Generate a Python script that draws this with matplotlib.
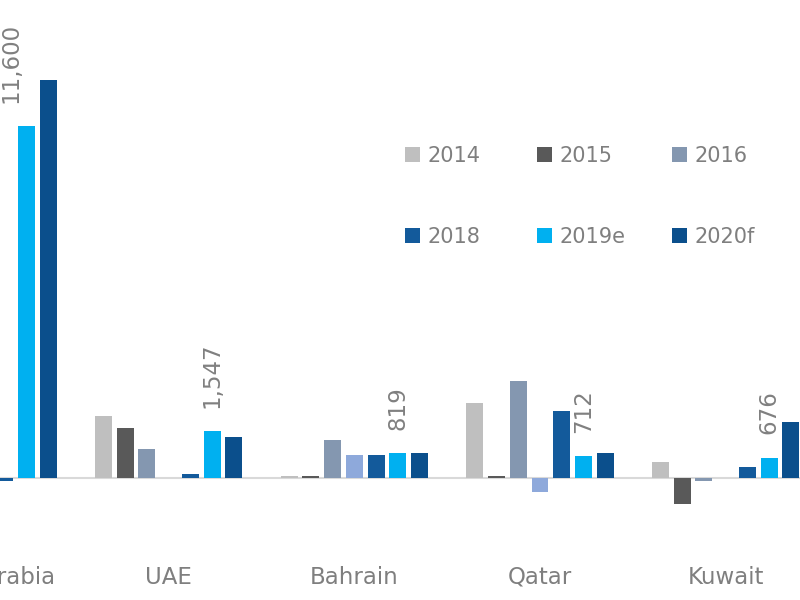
import numpy as np
import matplotlib
matplotlib.use("Agg")
import matplotlib.pyplot as plt
from matplotlib.patches import Patch

nan = np.nan
countries = ["Saudi Arabia", "UAE", "Bahrain", "Qatar", "Kuwait"]
years = ["2014", "2015", "2016", "2017", "2018", "2019e", "2020f"]
v2014 = [nan, 2050, 60, 2475, 540]
v2015 = [nan, 1650, 60, 75, -860]
v2016 = [nan, 960, 1250, 3200, -100]
v2017 = [nan, 0, 760, -460, 0]
v2018 = [-100, 140, 760, 2210, 365]
v2019e = [11600, 1547, 819, 712, 676]
v2020f = [13130, 1360, 830, 825, 1860]
series = [v2014, v2015, v2016, v2017, v2018, v2019e, v2020f]
colors = ["#BFBFBF", "#595959", "#8497B0", "#8EA9DB", "#135A9B", "#00B0F0", "#0B4F8C"]

plt.rcParams["font.family"] = ["DejaVu Sans"]
fig = plt.figure(figsize=(8, 6), dpi=100)
ax = fig.add_axes([0, 40 / 600, 1, 560 / 600])

x = np.arange(len(countries))
step = 0.117
width = 0.0915
for k, (vals, col) in enumerate(zip(series, colors)):
    ax.bar(x + (k - 3) * step, vals, width=width, color=col, zorder=2)

ax.axhline(0, color="#D9D9D9", lw=1.5, zorder=1)

# data labels on 2019e
label_dx = [-15, 0, 0, 0, 0]
for i, v in enumerate(v2019e):
    ax.annotate(f"{v:,}", xy=(x[i] + 2 * step, v), xytext=(label_dx[i] * 0.72, 17),
                textcoords="offset points", rotation=90, ha="center", va="bottom",
                fontsize=16.5, color="#808080")

# category labels (drawn as text so the partly hidden first one still shows)
for i, name in enumerate(countries):
    ax.annotate(name, xy=(x[i], 0), xycoords=("data", "axes fraction"),
                xytext=(0, -4), textcoords="offset points", ha="center", va="top",
                fontsize=16.5, color="#7F7F7F", annotation_clip=False)

ax.set_xticks([])
ax.set_yticks([])
ax.set_xlim(0.0921, 4.4001)
ax.set_ylim(-2706, 15774)
for s in ax.spines.values():
    s.set_visible(False)

# legend laid out in 4 columns (the last column falls outside the picture)
cols = [[0, 4], [1, 5], [2, 6], [3]]
col_x = [405, 537, 672, 806]
for cx, idxs in zip(col_x, cols):
    handles = [Patch(facecolor=colors[j], edgecolor="none") for j in idxs]
    fig.legend(handles, [years[j] for j in idxs], loc="upper left",
               bbox_to_anchor=(cx / 800, 1 - 146 / 600), bbox_transform=fig.transFigure,
               frameon=False, borderpad=0, borderaxespad=0, fontsize=15,
               handlelength=0.7, handleheight=0.7, handletextpad=0.38,
               labelspacing=2.93, labelcolor="#7F7F7F")

fig.savefig("out.png", dpi=100)
